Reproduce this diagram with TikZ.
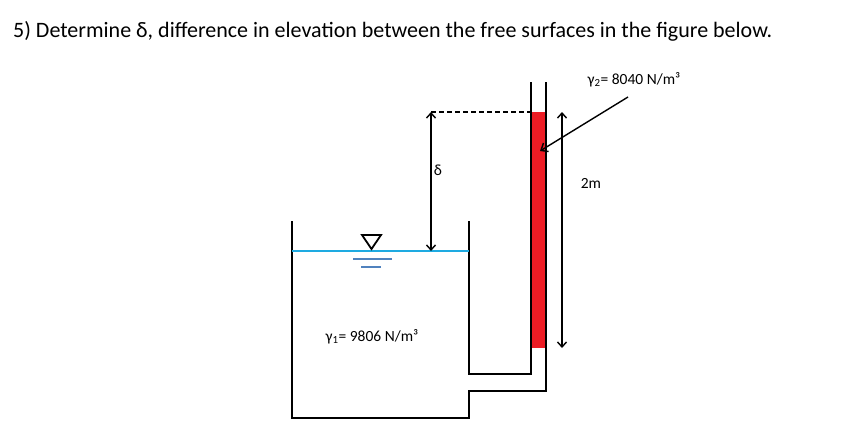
\documentclass[tikz,border=0pt]{standalone}
\usepackage{fontspec}
\setmainfont{Carlito}
\usetikzlibrary{arrows.meta}
\begin{document}
\begin{tikzpicture}[x=1pt,y=-1pt,
  wall/.style={line width=2.5pt,black},
  dim/.style={line width=1.4pt,{Straight Barb[length=5pt,width=9pt]}-{Straight Barb[length=5pt,width=9pt]}},
  lbl/.style={font=\fontsize{15.5}{18}\selectfont,inner sep=0pt}]
\useasboundingbox (0,0) rectangle (846,444);
\fill[white] (0,0) rectangle (846,444);
\node[anchor=west,inner sep=0pt,font=\fontsize{22}{26}\selectfont] (title) at (13,31) {5) Determine δ, difference in elevation between the free surfaces in the figure below.};
\fill[fill={rgb,255:red,237;green,28;blue,36}] (531,112) rectangle (546,348);
\draw[wall] (292,221) -- (292,418) -- (469,418) -- (469,391) -- (546,391) -- (546,82);
\draw[wall] (469,221) -- (469,374) -- (531,374) -- (531,82);
\draw[line width=2.5pt,color={rgb,255:red,30;green,170;blue,225}] (292,251) -- (469,251);
\draw[line width=1.8pt] (362,235) -- (381,235) -- (371.5,249) -- cycle;
\draw[line width=1.2pt,color={rgb,255:red,80;green,130;blue,190}] (353,259) -- (392,259) (361,267) -- (381,267);
\coordinate (dtop) at (431,112);
\coordinate (dbot) at (431,251);
\draw[dash pattern=on 5pt off 3pt,line width=1.4pt] (dtop) -- (531,112);
\draw[dim] (dtop) -- (dbot);
\node[lbl] (delta) at (438,170) {δ};
\coordinate (mtop) at (562,112);
\coordinate (mbot) at (562,348);
\draw[dim] (mtop) -- (mbot);
\node[lbl] (twom) at (591,183) {2m};
\node[lbl] (g2) at (634,80) {γ\textsubscript{2}= 8040 N/m³};
\coordinate (g2s) at (628,97);
\coordinate (g2e) at (540,151);
\draw[line width=1.4pt,-{Straight Barb[length=6pt,width=10pt]}] (g2s) -- (g2e);
\node[lbl] (g1) at (372,337) {γ\textsubscript{1}= 9806 N/m³};
\end{tikzpicture}
\end{document}
